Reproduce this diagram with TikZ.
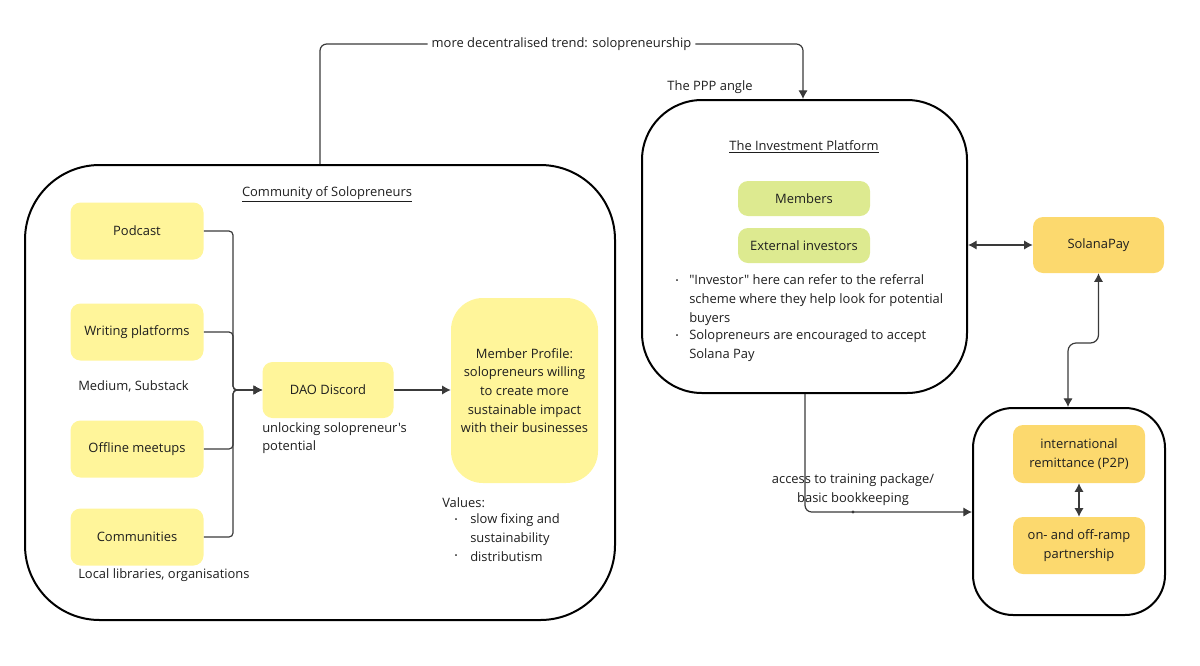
\documentclass[tikz,border=0pt]{standalone}
\usepackage{fontspec}
\setmainfont{Open Sans}[Ligatures=TeXOff]
\usetikzlibrary{arrows.meta,fit}
\definecolor{ylw}{HTML}{FFF59A}
\definecolor{grn}{HTML}{DDEA90}
\definecolor{org}{HTML}{FCD96E}
\definecolor{txt}{HTML}{1E1E1E}
\definecolor{ln}{HTML}{3A3A3A}
\begin{document}
\begin{tikzpicture}[x=0.75pt,y=-0.75pt,
  every node/.style={text=txt, font=\fontsize{9.7}{14}\selectfont},
  container/.style={draw=black, line width=1.5pt, inner sep=0pt},
  box/.style={rounded corners=7.5pt, inner sep=2pt, align=center},
  ybox/.style={box, fill=ylw, minimum width=99.75pt, minimum height=42.75pt},
  gbox/.style={box, fill=grn, minimum width=99pt, minimum height=26.25pt},
  obox/.style={box, fill=org, minimum width=99pt, minimum height=42.75pt},
  conn/.style={draw=ln, line width=0.9pt, rounded corners=3pt, -{Latex[length=6.5pt,width=7pt]}},
  dconn/.style={draw=ln, line width=0.9pt, rounded corners=3pt, {Latex[length=6.5pt,width=7pt]}-{Latex[length=6.5pt,width=7pt]}},
  plain/.style={inner sep=0pt, align=left},
  bul/.style={inner sep=0pt, font=\fontsize{6}{6}\selectfont}]
\useasboundingbox (0,0) rectangle (1200,665);

% containers
\node[container, rounded corners=56pt, fit={(25,165) (615,620)}] (comm) {};
\node[container, rounded corners=45pt, fit={(642,100) (967,393)}] (inv) {};
\node[container, rounded corners=30pt, fit={(973,408) (1165,615)}] (bot) {};

% left part
\node[plain] (ctitle) at (327,194) {\underline{Community of Solopreneurs}};
\node[ybox] (pod) at (137,231) {Podcast};
\node[ybox] (wri) at (137,332) {Writing platforms};
\node[ybox] (off) at (137,449) {Offline meetups};
\node[ybox] (cmt) at (137,537) {Communities};
\node[plain, anchor=west] (med) at (78,386) {Medium, Substack};
\node[plain, anchor=west] (loc) at (78,575) {Local libraries, organisations};
\node[ybox, minimum width=98.25pt, minimum height=42pt] (dao) at (328,390) {DAO Discord};
\node[plain, anchor=west] (unl) at (262,438) {unlocking solopreneur's\\potential};
\node[box, fill=ylw, rounded corners=24pt, minimum width=110.25pt, minimum height=138.75pt] (mem) at (524.5,390.5)
  {Member Profile:\\solopreneurs willing\\to create more\\sustainable impact\\with their businesses};
\node[plain, anchor=west] (val) at (442,503) {Values:};
\node[bul] (vb1) at (456,521) {•};
\node[plain, anchor=west] (vt1) at (470,529.5) {slow fixing and\\sustainability};
\node[bul] (vb2) at (456,557) {•};
\node[plain, anchor=west] (vt2) at (470,557) {distributism};

\coordinate (jx) at (233,0);
\draw[conn] (pod.east) -| (jx |- dao.west) -- (dao.west);
\draw[conn] (wri.east) -| (jx |- dao.west) -- (dao.west);
\draw[conn] (off.east) -| (jx |- dao.west) -- (dao.west);
\draw[conn] (cmt.east) -| (jx |- dao.west) -- (dao.west);
\draw[conn] (dao.east) -- (mem.west |- dao.east);

% top connector
\coordinate (tl) at (320,44);
\coordinate (tr) at (803,44);
\draw[conn, rounded corners=5pt] (comm.north -| tl) -- (tl) -- node[fill=white, inner sep=3pt] (trend) {more decentralised trend: solopreneurship} (tr) -- (inv.north -| tr);
\node[plain] (ppp) at (710,87) {The PPP angle};

% investment platform
\node[plain] (ititle) at (804,147) {\underline{The Investment Platform}};
\node[gbox] (mbr) at (804,198.5) {Members};
\node[gbox] (ext) at (804,245.5) {External investors};
\node[bul] (ib1) at (677,282) {•};
\node[plain, anchor=west] (it1) at (689,300) {"Investor" here can refer to the referral\\scheme where they help look for potential\\buyers};
\node[bul] (ib2) at (677,337) {•};
\node[plain, anchor=west] (it2) at (689,345.5) {Solopreneurs are encouraged to accept\\Solana Pay};

% right part
\node[obox, minimum width=98.25pt, minimum height=42pt] (sol) at (1098.5,245) {SolanaPay};
\node[obox, minimum height=43.5pt] (rem) at (1079,454) {international\\remittance (P2P)};
\node[obox] (ramp) at (1079,545.5) {on- and off-ramp\\partnership};

\draw[dconn] (sol.west -| inv.east) -- (sol.west);
\coordinate (sx) at (1068,343);
\draw[dconn, rounded corners=6pt] (sol.south) -- (sol.south |- sx) -- (sx) -- (bot.north -| sx);
\draw[dconn] (rem.south) -- (ramp.north);

% bottom connector
\coordinate (bx) at (805,512);
\draw[conn, rounded corners=5pt] (inv.south -| bx) -- (bx) -- (bot.west |- bx);
\node[plain, align=center] (acc) at (853,489.5) {access to training package/\\basic bookkeeping};
\fill[ln] (853,512) circle (1.2pt);
\end{tikzpicture}
\end{document}
